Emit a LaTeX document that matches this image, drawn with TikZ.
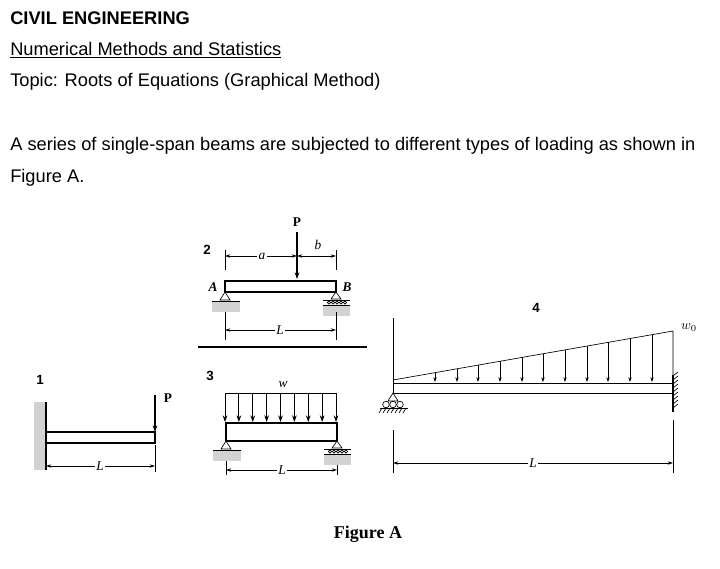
\documentclass[tikz,border=0pt]{standalone}
\usepackage{fontspec}
\setmainfont{Liberation Sans}
\newfontfamily\serif{Liberation Serif}
\usetikzlibrary{arrows.meta,patterns}
\begin{document}
\begin{tikzpicture}[x=0.75pt,y=-0.75pt,
  txt/.style={anchor=west,inner sep=0,font=\fontsize{13.7}{15}\selectfont},
  lab/.style={inner sep=0,font=\serif\itshape\fontsize{10}{11}\selectfont,fill=white,inner xsep=1pt},
  num/.style={inner sep=0,font=\bfseries\fontsize{10}{11}\selectfont},
  beam/.style={draw,line width=1pt},
  ld/.style={-{Stealth[length=5pt,width=3.5pt]},line width=0.8pt},
  ldt/.style={-{Stealth[length=3.5pt,width=2.5pt]},line width=0.5pt},
  dim/.style={{Stealth[length=4pt,width=2.5pt]}-{Stealth[length=4pt,width=2.5pt]},line width=0.5pt},
  gnd/.style={fill=gray!35,draw=none},
  thin/.style={line width=0.5pt}]
\useasboundingbox (0,0) rectangle (720,568);
% header text
\node[txt,font=\bfseries\fontsize{13.7}{15}\selectfont] (t1) at (10,18) {CIVIL ENGINEERING};
\node[txt] (t2) at (10,50) {\underline{Numerical Methods and Statistics}};
\node[txt] (t3) at (10,82) {Topic: Roots of Equations (Graphical Method)};
\node[txt] (t4) at (10,146) {A series of single-span beams are subjected to different types of loading as shown in};
\node[txt] (t5) at (10,178) {Figure A.};
\node[inner sep=0,font=\serif\bfseries\fontsize{13.5}{15}\selectfont] (fa) at (368,534) {Figure A};

% ---------- Figure 1 ----------
\node[num] (n1) at (40,380) {1};
\fill[gnd] (34,402) rectangle (46,470);
\draw[line width=1pt] (46,402) -- (46,470);
\draw[beam,line width=1.3pt] (46,432) rectangle (155,443);
\coordinate (p1t) at (155,395); \coordinate (p1b) at (155,432);
\draw[ld,line width=1.2pt] (p1t) -- (p1b);
\node[lab,font=\serif\bfseries\fontsize{10}{11}\selectfont] (P1) at (168,398) {P};
\draw[thin] (155,445) -- (155,472);
\coordinate (d1a) at (46,466); \coordinate (d1b) at (155,466);
\draw[dim] (d1a) -- (d1b);
\node[lab] (L1) at (100,466) {L};

% ---------- Figure 2 ----------
\node[num] (n2) at (207,250) {2};
\node[lab,font=\serif\bfseries\fontsize{10}{11}\selectfont] (P2) at (297,222) {P};
\draw[ld,line width=1.3pt] (297,232) -- (297,279);
\draw[thin] (225,250) -- (225,270) (336,250) -- (336,270);
\draw[dim] (225,256) -- (297,256);
\draw[dim] (336,256) -- (297,256);
\node[lab] (a2) at (262,256) {a};
\node[lab] (b2) at (318,245) {b};
\draw[beam,line width=1.3pt] (225,281) rectangle (336,292);
\node[lab,font=\serif\bfseries\itshape\fontsize{10}{11}\selectfont] (A2) at (213,287) {A};
\node[lab,font=\serif\bfseries\itshape\fontsize{10}{11}\selectfont] (B2) at (347,287) {B};
% pin A
\draw[thin,fill=white] (225,292) -- (220,300) -- (230,300) -- cycle;
\draw[thin] (212,301) -- (240,301);
\fill[gnd] (212,302) rectangle (240,312);
% roller B
\draw[thin,fill=white] (336,292) -- (331,299) -- (341,299) -- cycle;
\draw[thin] (323,300) -- (350,300) (323,305) -- (350,305);
\foreach \xx in {329,333,337,341,345} \draw[thin] (\xx,302.5) circle (1.6);
\fill[gnd] (323,306) rectangle (350,316);
\draw[thin] (225,312) -- (225,340) (336,312) -- (336,340);
\draw[dim] (225,330) -- (336,330);
\node[lab] (L2) at (280,330) {L};
\draw[line width=0.8pt] (198,347) -- (367,347);

% ---------- Figure 3 ----------
\node[num] (n3) at (210,376) {3};
\node[lab] (w3) at (283,384) {w};
\draw[thin] (225,393) -- (336,393);
\foreach \xx in {0,...,8} \draw[ld,line width=0.7pt] ({225+\xx*111/8},393) -- ({225+\xx*111/8},422);
\draw[beam,line width=1.3pt] (226,423) rectangle (337,441);
\draw[thin,fill=white] (226,441) -- (221,449) -- (231,449) -- cycle;
\draw[thin] (213,450) -- (241,450);
\fill[gnd] (213,451) rectangle (241,461);
\draw[thin,fill=white] (337,441) -- (332,448) -- (342,448) -- cycle;
\draw[thin] (324,449) -- (351,449) (324,454) -- (351,454);
\foreach \xx in {330,334,338,342,346} \draw[thin] (\xx,451.5) circle (1.6);
\fill[gnd] (324,455) rectangle (351,465);
\draw[thin] (226,461) -- (226,475) (337,465) -- (337,475);
\draw[dim] (226,470) -- (337,470);
\node[lab] (L3) at (282,470) {L};

% ---------- Figure 4 ----------
\node[num] (n4) at (536,308) {4};
\draw[thin] (393,318) -- (393,383);
\draw[thin] (393,380) -- (673,331) -- (673,383);
\draw[thin] (393,383) rectangle (673,393);
\foreach \xx in {435,457,478,500,522,543,565,587,608,630,652} {
  \draw[ldt] (\xx,{380-(\xx-393)*49/280}) -- (\xx,382);
}
\node[lab,font=\serif\itshape\fontsize{10}{11}\selectfont] (w4) at (689,328) {$w_0$};
\draw[line width=0.8pt] (673,375) -- (673,412);
\foreach \yy in {376,380,...,410} \draw[thin] (673,\yy) -- (678,\yy-4);
% roller support
\draw[thin,fill=white] (393,393) -- (388,401) -- (398,401) -- cycle;
\foreach \xx in {386,393,400} \draw[thin] (\xx,404.5) circle (3.3);
\draw[thin] (380,408) -- (408,408);
\foreach \xx in {382,386,...,406} \draw[thin] (\xx,408) -- (\xx-3,413);
\draw[thin] (393,430) -- (393,473) (673,420) -- (673,473);
\draw[dim] (393,463) -- (673,463);
\node[lab] (L4) at (533,463) {L};
\end{tikzpicture}
\end{document}
